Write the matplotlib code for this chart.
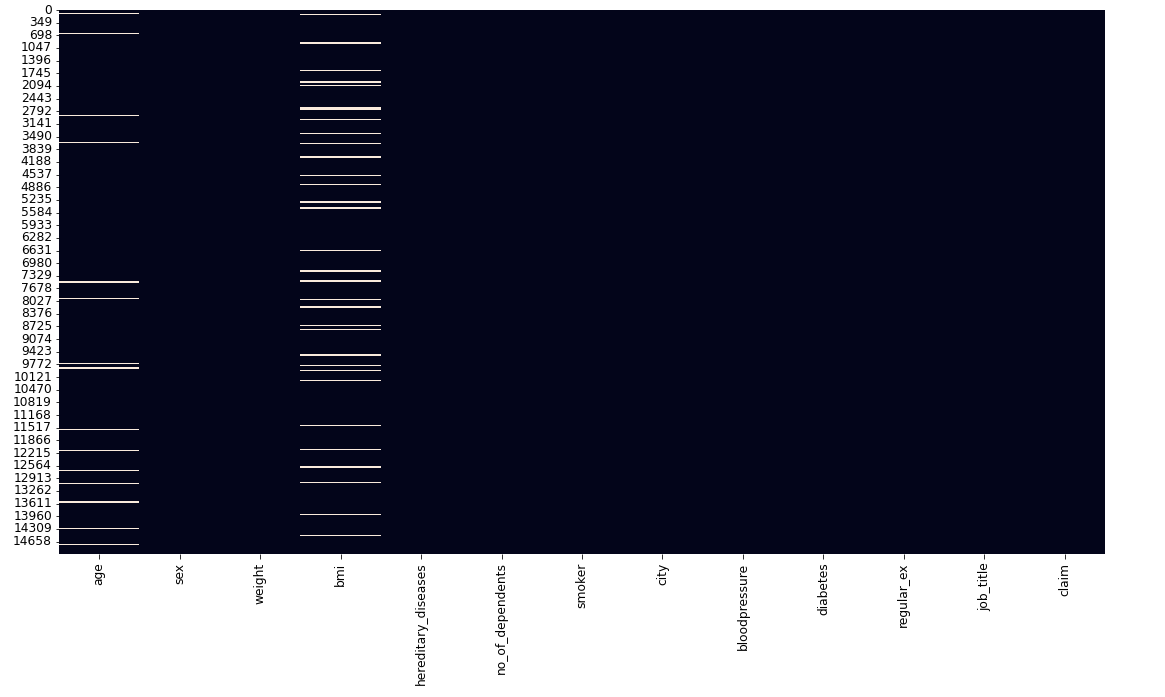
import numpy as np
import pandas as pd
import matplotlib
matplotlib.use("Agg")
import matplotlib.pyplot as plt
import seaborn as sns

# missing-value map of the insurance dataset (15000 rows)
n_rows = 15000
columns = ['age', 'sex', 'weight', 'bmi', 'hereditary_diseases', 'no_of_dependents',
           'smoker', 'city', 'bloodpressure', 'diabetes', 'regular_ex', 'job_title', 'claim']

# contiguous blocks of missing rows: start row, number of rows
age_nan_start = [88, 630, 2898, 3635, 7485, 7936, 9728, 9856, 11557, 12136,
                 12679, 13037, 13551, 14287, 14720]
age_nan_len = [30] * len(age_nan_start)

bmi_nan_start = [115, 885, 1659, 1970, 2072, 2675, 3001, 3387, 3671, 4038, 4554,
                 4791, 5279, 5432, 6622, 7181, 7457, 7964, 8174, 8689, 8791, 9488,
                 9792, 9924, 10206, 11447, 12108, 12585, 13010, 13901, 14480]
bmi_nan_len = [30, 60, 30, 30, 30, 95, 30, 30, 30, 30, 30,
               30, 30, 42, 30, 30, 30, 30, 30, 30, 30, 50,
               30, 30, 30, 30, 30, 30, 30, 30, 30]


def build_missing(starts, lengths):
    mask = np.zeros(n_rows, dtype=bool)
    for s, l in zip(starts, lengths):
        mask[s:s + l] = True
    return mask


df = pd.DataFrame(False, index=range(n_rows), columns=columns)
df['age'] = build_missing(age_nan_start, age_nan_len)
df['bmi'] = build_missing(bmi_nan_start, bmi_nan_len)

plt.rcParams['font.size'] = 12.2

fig = plt.figure(figsize=(1165 / 72, 697 / 72), dpi=72)
ax = fig.add_axes([59 / 1165, 143 / 697, 1046 / 1165, 544 / 697])
sns.heatmap(df, cbar=False, yticklabels=349, ax=ax, antialiased=True)
ax.tick_params(axis='x', labelrotation=90, length=5)
ax.tick_params(axis='y', labelrotation=0)

fig.savefig("out.png", dpi=72, facecolor='white')
